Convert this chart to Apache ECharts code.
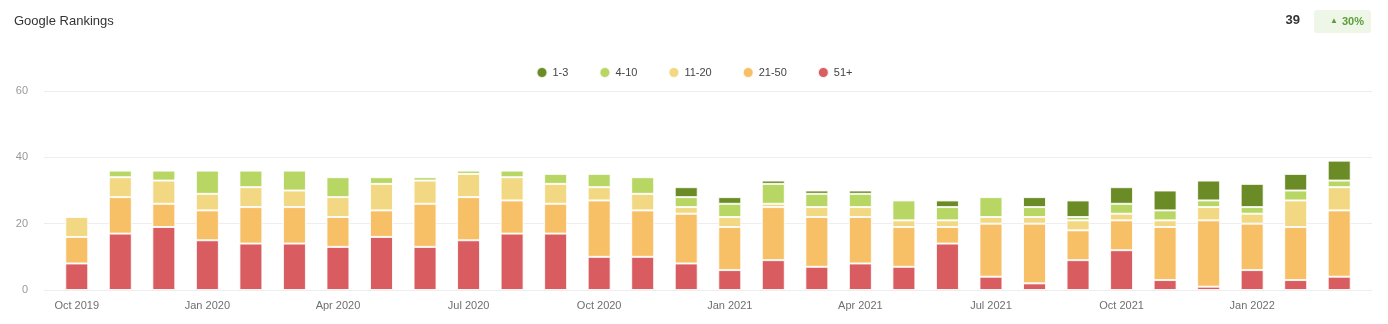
<!DOCTYPE html>
<html>
<head>
<meta charset="utf-8">
<script src="https://cdn.jsdelivr.net/npm/echarts@6/dist/echarts.min.js"></script>
<style>
html,body{margin:0;padding:0;background:#fff;}
#chart{width:1388px;height:324px;}
</style>
</head>
<body>
<div id="chart"></div>
<script>
const months = ["Oct 2019","Nov 2019","Dec 2019","Jan 2020","Feb 2020","Mar 2020","Apr 2020","May 2020","Jun 2020","Jul 2020","Aug 2020","Sep 2020","Oct 2020","Nov 2020","Dec 2020","Jan 2021","Feb 2021","Mar 2021","Apr 2021","May 2021","Jun 2021","Jul 2021","Aug 2021","Sep 2021","Oct 2021","Nov 2021","Dec 2021","Jan 2022","Feb 2022","Mar 2022"];
const pos51plus = [8,17,19,15,14,14,13,16,13,15,17,17,10,10,8,6,9,7,8,7,14,4,2,9,12,3,1,6,3,4];
const pos21to50 = [8,11,7,9,11,11,9,8,13,13,10,9,17,14,15,13,16,15,14,12,5,16,18,9,9,16,20,14,16,20];
const pos11to20 = [6,6,7,5,6,5,6,8,7,7,7,6,4,5,2,3,1,3,3,2,2,2,2,3,2,2,4,3,8,7];
const pos4to10 = [0,2,3,7,5,6,6,2,1,1,2,3,4,5,3,4,6,4,4,6,4,6,3,1,3,3,2,2,3,2];
const pos1to3 = [0,0,0,0,0,0,0,0,0,0,0,0,0,0,3,2,1,1,1,0,2,0,3,5,5,6,6,7,5,6];
const yTicks = [0, 20, 40, 60];
const headerValue = "39";
const headerChange = "30%";

const FONT = "Liberation Sans, Arial, Helvetica, sans-serif";
const chart = echarts.init(document.getElementById('chart'));

function mk(name, data, color) {
  return {
    name: name, type: 'bar', stack: 'r', xAxisIndex: 0, yAxisIndex: 0,
    barWidth: 23,
    data: data.map(v => v === 0 ? null : v),
    itemStyle: { color: color, borderColor: 'rgba(255,255,255,0.85)', borderWidth: 1 },
    emphasis: { disabled: true }
  };
}

const option = {
  animation: false,
  textStyle: { fontFamily: FONT },
  legend: {
    data: ['1-3','4-10','11-20','21-50','51+'],
    top: 61, left: 'center',
    icon: 'circle', itemWidth: 11, itemHeight: 11, itemGap: 30,
    textStyle: { fontSize: 11, color: '#444', fontFamily: FONT }
  },
  grid: [
    { left: 55, right: 27, top: 91, bottom: 34 },
    { left: 44, right: 16, top: 91, bottom: 34 }
  ],
  xAxis: [
    { type: 'category', gridIndex: 0, data: months,
      axisLine: { show: false }, axisTick: { show: false },
      axisLabel: { interval: (i) => i % 3 === 0, color: '#6f6f6f', fontSize: 11, margin: 10, fontFamily: FONT } },
    { type: 'category', gridIndex: 1, data: months, show: false }
  ],
  yAxis: [
    { type: 'value', gridIndex: 0, min: yTicks[0], max: yTicks[yTicks.length-1], interval: 20, show: false },
    { type: 'value', gridIndex: 1, min: yTicks[0], max: yTicks[yTicks.length-1], interval: 20,
      axisLine: { show: false }, axisTick: { show: false },
      splitLine: { lineStyle: { color: '#eeeeee', width: 1 } },
      axisLabel: { color: '#999', fontSize: 11, margin: 16, fontFamily: FONT } }
  ],
  series: [
    mk('51+', pos51plus, '#d95d60'),
    mk('21-50', pos21to50, '#f7c067'),
    mk('11-20', pos11to20, '#f2d883'),
    mk('4-10', pos4to10, '#b8d664'),
    mk('1-3', pos1to3, '#6b8b26')
  ],
  graphic: [
    { type: 'text', left: 14, top: 15, style: { text: 'Google Rankings', fontSize: 13, fill: '#333', fontFamily: FONT } },
    { type: 'text', right: 88, top: 14, style: { text: headerValue, fontSize: 13, fontWeight: 'bold', fill: '#333', fontFamily: FONT } },
    { type: 'rect', right: 17, top: 10, shape: { width: 57, height: 23, r: 3 }, style: { fill: '#edf6e7' } },
    { type: 'text', right: 24, top: 16, style: {
        rich: { a: { fontSize: 8, fill: '#5a9e3a', padding: [0,4,1,0] }, b: { fontSize: 11, fontWeight: 'bold', fill: '#5a9e3a', fontFamily: FONT } },
        text: '{a|▲}{b|' + headerChange + '}' } }
  ]
};
chart.setOption(option);
</script>
</body>
</html>
